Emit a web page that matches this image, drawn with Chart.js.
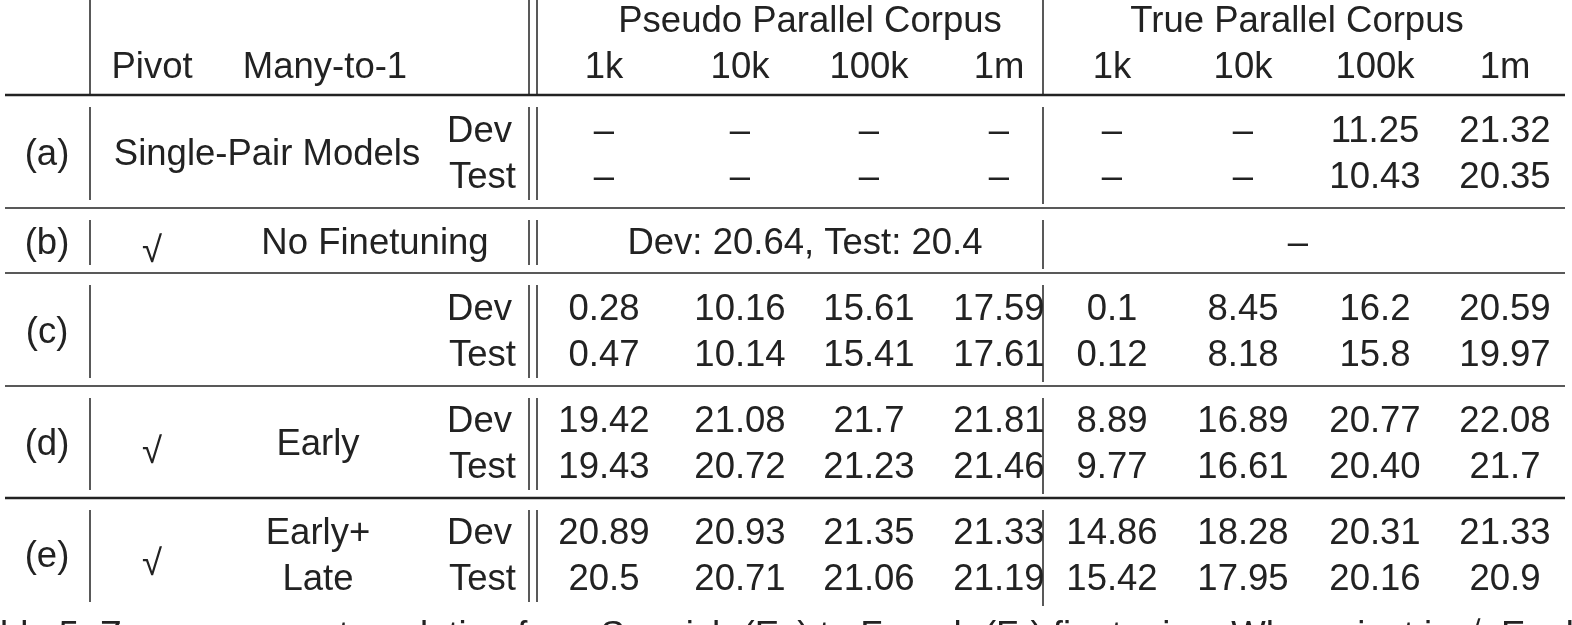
<!DOCTYPE html>
<html><head><meta charset="utf-8">
<script src="https://cdn.jsdelivr.net/npm/chart.js@4"></script>
<style>html,body{margin:0;padding:0;background:#fff;overflow:hidden}#wrap{width:1572px;height:625px}</style>
</head><body><div id="wrap"><canvas id="tbl"></canvas></div>
<script>
// table content
const groupLabels = ['(a)', '(b)', '(c)', '(d)', '(e)'];
const sizes = ['1k', '10k', '100k', '1m'];
const pseudoDev  = [['–','–','–','–'], null, ['0.28','10.16','15.61','17.59'], ['19.42','21.08','21.7','21.81'], ['20.89','20.93','21.35','21.33']];
const pseudoTest = [['–','–','–','–'], null, ['0.47','10.14','15.41','17.61'], ['19.43','20.72','21.23','21.46'], ['20.5','20.71','21.06','21.19']];
const trueDev  = [['–','–','11.25','21.32'], null, ['0.1','8.45','16.2','20.59'], ['8.89','16.89','20.77','22.08'], ['14.86','18.28','20.31','21.33']];
const trueTest = [['–','–','10.43','20.35'], null, ['0.12','8.18','15.8','19.97'], ['9.77','16.61','20.40','21.7'], ['15.42','17.95','20.16','20.9']];
const pivotMarks = ['', '√', '', '√', '√'];
const manyTo1 = [['Single-Pair Models'], ['No Finetuning'], [''], ['Early'], ['Early+', 'Late']];
const noFinetune = 'Dev: 20.64, Test: 20.4';
const caption = 'ble 5: Zero-resource translation from Spanish (Es) to French (Fr) finetuning. When pivot is √, English is used as the pivot language.';

const colX = [604, 740, 869, 999, 1112, 1243, 1375, 1505];
const groupTop = [97, 210, 275, 388, 500];
const groupBot = [208, 273, 386, 498, 610];

const tablePlugin = {
  id: 'tablePlugin',
  afterDraw(chart) {
    const { ctx, scales: { x, y } } = chart;
    const px = v => x.getPixelForValue(v), py = v => y.getPixelForValue(v);
    ctx.save();
    ctx.fillStyle = '#222'; ctx.strokeStyle = '#222';
    ctx.font = '36.5px "Liberation Sans", Arial, sans-serif';
    ctx.textBaseline = 'middle';
    const text = (s, cx, cy, align) => { ctx.textAlign = align || 'center'; ctx.fillText(s, px(cx), py(cy + 2)); };
    const line = (x1, y1, x2, y2, w) => { ctx.lineWidth = w; ctx.beginPath(); ctx.moveTo(px(x1), py(y1)); ctx.lineTo(px(x2), py(y2)); ctx.stroke(); };

    // header
    text('Pseudo Parallel Corpus', 810, 20);
    text('True Parallel Corpus', 1297, 20);
    text('Pivot', 152, 66);
    text('Many-to-1', 325, 66);
    sizes.concat(sizes).forEach((s, i) => text(s, colX[i], 66));
    line(90, 0, 90, 95, 1.5); line(529, 0, 529, 95, 1.5); line(537, 0, 537, 95, 1.5); line(1043, 0, 1043, 95, 1.5);

    groupLabels.forEach((g, i) => {
      const t = groupTop[i], b = groupBot[i], mid = (t + b) / 2;
      const two = i !== 1;
      const dy = two ? mid - 23 : mid, ty = mid + 23;
      text(g, 47, mid);
      if (pivotMarks[i]) text(pivotMarks[i], 152, mid + 8);
      const m = manyTo1[i];
      if (i === 0) text(m[0], 267, mid);
      else if (i === 1) text(m[0], 375, mid);
      else if (m.length === 2) { text(m[0], 318, dy); text(m[1], 318, ty); }
      else if (m[0]) text(m[0], 318, mid);
      if (two) { text('Dev', 512, dy, 'right'); text('Test', 516, ty, 'right'); }
      if (i === 1) {
        text(noFinetune, 805, mid);
        text('–', 1298, mid);
      } else {
        pseudoDev[i].concat(trueDev[i]).forEach((v, k) => text(v, colX[k], dy));
        pseudoTest[i].concat(trueTest[i]).forEach((v, k) => text(v, colX[k], ty));
      }
      line(90, t + 10, 90, b - 8, 1.5);
      line(529, t + 10, 529, b - 8, 1.5); line(537, t + 10, 537, b - 8, 1.5);
      line(1043, t + 10, 1043, b - 4, 1.5);
      if (i < 4) line(5, b, 1565, b, i === 3 ? 2.5 : 1.5);
    });
    line(5, 95, 1565, 95, 2.5);
    text(caption, 0, 635, 'left');
    ctx.restore();
  }
};

new Chart(document.getElementById('tbl'), {
  type: 'scatter',
  data: { datasets: [{ data: [] }] },
  options: {
    responsive: true, maintainAspectRatio: false, animation: false,
    layout: { padding: 0 },
    plugins: { legend: { display: false }, tooltip: { enabled: false } },
    scales: {
      x: { type: 'linear', min: 0, max: 1572, display: false },
      y: { type: 'linear', min: 0, max: 625, reverse: true, display: false }
    }
  },
  plugins: [tablePlugin]
});
</script></body></html>
